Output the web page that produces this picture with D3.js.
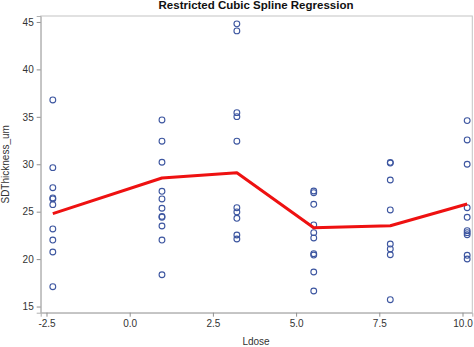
<!DOCTYPE html>
<html>
<head>
<meta charset="utf-8">
<script src="https://cdn.jsdelivr.net/npm/d3@7"></script>
<style>
  html, body { margin: 0; padding: 0; background: #fff; }
  svg { display: block; font-family: "Liberation Sans", Arial, sans-serif; }
</style>
</head>
<body>
<svg id="chart" width="474" height="347"></svg>
<script>
// ---- data ----
const doseLevels = [-2.31, 0.97, 3.22, 5.53, 7.83, 10.14];
const obsGroup1 = [36.78, 29.64, 27.53, 26.45, 26.35, 25.74, 23.18, 22.01, 20.75, 17.09];
const obsGroup2 = [34.67, 32.43, 30.21, 27.15, 26.34, 25.36, 24.50, 24.42, 23.49, 22.01, 18.35];
const obsGroup3 = [44.80, 44.06, 35.44, 35.02, 32.43, 25.42, 24.97, 24.30, 22.54, 22.12];
const obsGroup4 = [27.18, 27.00, 25.78, 23.60, 22.79, 22.23, 20.57, 20.43, 18.64, 16.64];
const obsGroup5 = [30.20, 30.12, 28.34, 25.18, 21.59, 21.07, 20.46, 15.72];
const obsGroup6 = [34.60, 32.56, 30.00, 25.42, 24.41, 23.00, 22.79, 22.57, 20.40, 20.01];
const splineFit = [24.79, 28.55, 29.11, 23.31, 23.52, 25.81];
const xTicks = [-2.5, 0.0, 2.5, 5.0, 7.5, 10.0];
const yTicks = [15, 20, 25, 30, 35, 40, 45];
const titleText = "Restricted Cubic Spline Regression";
const xLabel = "Ldose";
const yLabel = "SDThickness_um";

// ---- layout ----
const svg = d3.select("#chart");
const L = 40.7, R = 472.3, T = 16, B = 312.7;
const x = d3.scaleLinear().domain([-2.674, 10.294]).range([L, R]);
const y = d3.scaleLinear().domain([14.35, 45.63]).range([B, T]);

const groups = [obsGroup1, obsGroup2, obsGroup3, obsGroup4, obsGroup5, obsGroup6];
const points = [];
groups.forEach((g, i) => g.forEach(v => points.push({x: doseLevels[i], y: v})));

// frame
svg.append("rect")
  .attr("x", L).attr("y", T).attr("width", R - L).attr("height", B - T)
  .attr("fill", "none").attr("stroke", "#c4c4c4").attr("stroke-width", 1);

// axes
const xAxis = svg.append("g").attr("transform", `translate(0,${B})`)
  .call(d3.axisBottom(x).tickValues(xTicks).tickFormat(d3.format(".1f")).tickSize(4).tickPadding(3));
const yAxis = svg.append("g").attr("transform", `translate(${L},0)`)
  .call(d3.axisLeft(y).tickValues(yTicks).tickFormat(d3.format("d")).tickSize(4).tickPadding(3));
[xAxis, yAxis].forEach(a => {
  a.select(".domain").attr("stroke", "#b0b0b0");
  a.selectAll(".tick line").attr("stroke", "#909090");
  a.selectAll(".tick text").attr("fill", "#333").attr("font-size", 10)
    .attr("font-family", "'Liberation Sans', Arial, sans-serif");
});
xAxis.selectAll(".tick text").text(d => d < 0 ? "-" + d3.format(".1f")(-d) : d3.format(".1f")(d));

// scatter
svg.append("g").selectAll("circle").data(points).join("circle")
  .attr("cx", d => x(d.x)).attr("cy", d => y(d.y)).attr("r", 2.9)
  .attr("fill", "none").attr("stroke", "#3d56a0").attr("stroke-width", 1.1);

// fit line
const fit = doseLevels.map((d, i) => [d, splineFit[i]]);
svg.append("path").datum(fit)
  .attr("d", d3.line().x(d => x(d[0])).y(d => y(d[1])))
  .attr("fill", "none").attr("stroke", "#ee1111").attr("stroke-width", 3)
  .attr("stroke-linejoin", "round");

// title and labels
svg.append("text").attr("x", 256).attr("y", 9)
  .attr("text-anchor", "middle").attr("font-weight", "bold").attr("font-size", 11.5)
  .attr("fill", "#111").text(titleText);
svg.append("text").attr("x", 256).attr("y", 345)
  .attr("text-anchor", "middle").attr("font-size", 10).attr("fill", "#333").text(xLabel);
svg.append("text").attr("transform", `translate(9,${(T + B) / 2}) rotate(-90)`)
  .attr("text-anchor", "middle").attr("font-size", 10).attr("fill", "#333").text(yLabel);
</script>
</body>
</html>
